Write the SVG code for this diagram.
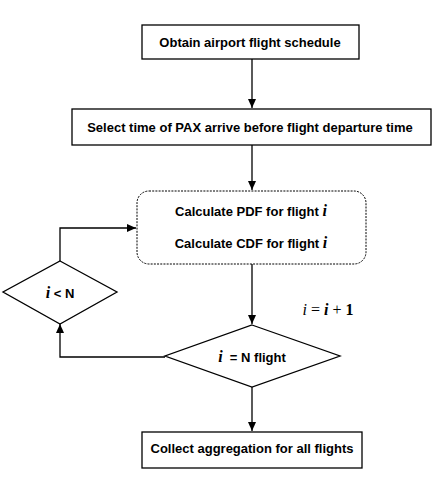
<svg xmlns="http://www.w3.org/2000/svg" width="444" height="498" viewBox="0 0 444 498">
<defs>
<style>
.box{fill:#fff;stroke:#000;stroke-width:1.3}
.dash{fill:#fff;stroke:#000;stroke-width:1;stroke-dasharray:2 1.2}
.ln{fill:none;stroke:#000;stroke-width:1.3}
.t{font-family:"Liberation Sans",Arial,sans-serif;font-weight:bold;font-size:13px;fill:#000;text-anchor:middle}
.m{font-family:"Liberation Serif","Times New Roman",serif;font-style:italic;font-size:16px}
</style>
<marker id="ah" markerWidth="10" markerHeight="10" refX="9" refY="5" orient="auto" markerUnits="userSpaceOnUse">
<path d="M0,1 L9,5 L0,9 Z" fill="#000"/>
</marker>
</defs>
<rect width="444" height="498" fill="#fff"/>
<g id="connectors">
<line class="ln" x1="252" y1="59" x2="252" y2="108" marker-end="url(#ah)"/>
<line class="ln" x1="252" y1="145" x2="252" y2="190" marker-end="url(#ah)"/>
<line class="ln" x1="252" y1="264" x2="252" y2="324" marker-end="url(#ah)"/>
<line class="ln" x1="252" y1="387" x2="252" y2="431" marker-end="url(#ah)"/>
<polyline class="ln" points="165,357 60,357 60,324" marker-end="url(#ah)"/>
<polyline class="ln" points="60,261 60,228 136,228" marker-end="url(#ah)"/>
</g>
<g id="n1">
<rect class="box" x="142" y="25" width="217" height="34"/>
<text class="t" x="250" y="47">Obtain airport flight schedule</text>
</g>
<g id="n2">
<rect class="box" x="72" y="109" width="359" height="36"/>
<text class="t" x="250" y="132">Select time of PAX arrive before flight departure time</text>
</g>
<g id="n3">
<rect class="dash" x="137" y="191" width="229" height="73" rx="12" ry="12"/>
<text class="t" x="251" y="216">Calculate PDF for flight <tspan class="m" font-weight="bold">i</tspan></text>
<text class="t" x="251" y="248">Calculate CDF for flight <tspan class="m" font-weight="bold">i</tspan></text>
</g>
<g id="n4">
<polygon class="box" points="252,325 340,356 252,387 165,356"/>
<text class="t" x="252" y="362"><tspan class="m" font-weight="bold">i</tspan>&#160; = N flight</text>
</g>
<g id="n5">
<polygon class="box" points="60,261 117,292 60,324 3,292"/>
<text class="t" x="60" y="298"><tspan class="m" font-weight="bold">i</tspan> &lt; N</text>
</g>
<g id="n6">
<rect class="box" x="142" y="432" width="220" height="36"/>
<text class="t" x="252" y="453">Collect aggregation for all flights</text>
</g>
<text x="328" y="315" text-anchor="middle" font-family="'Liberation Serif','Times New Roman',serif" font-size="16"><tspan font-style="italic">i</tspan>&#160;=&#160;<tspan font-style="italic" font-weight="bold">i</tspan>&#160;+&#160;<tspan font-weight="bold">1</tspan></text>
</svg>
